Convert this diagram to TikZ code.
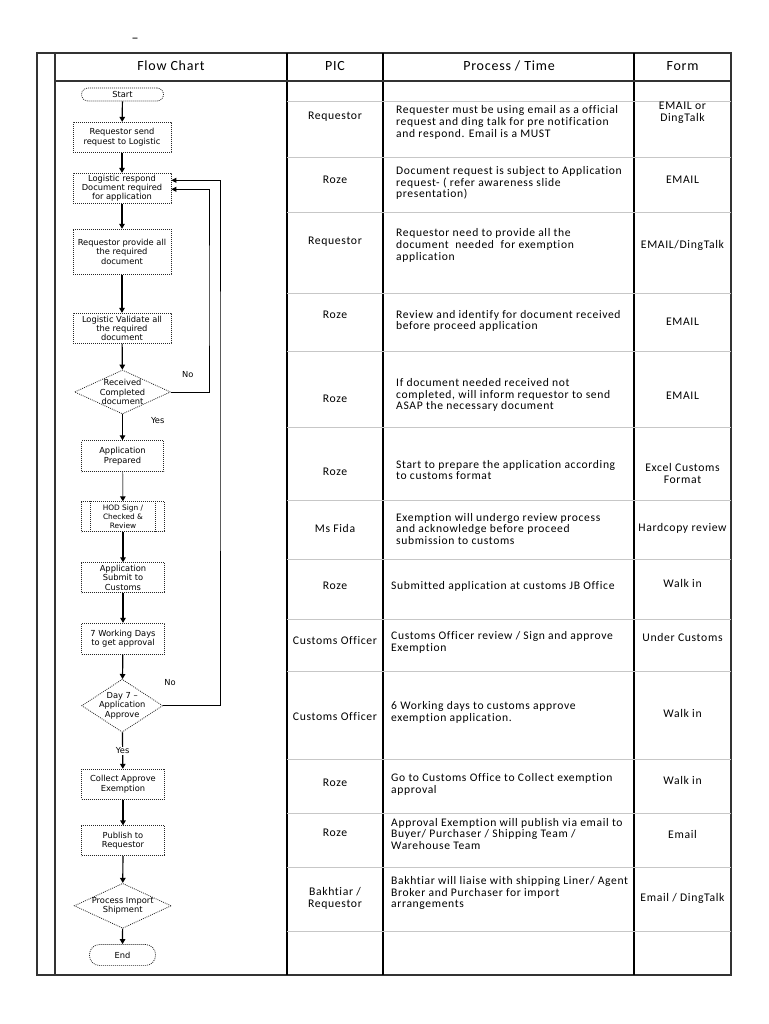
\documentclass[tikz,border=0pt]{standalone}
\usepackage{fontspec}
\setmainfont{Carlito}
\newfontfamily\tabfont[LetterSpace=5.5,Ligatures={NoCommon}]{Carlito}
\newfontfamily\flowfont{DejaVu Sans}
\usepackage{tikz}
\usetikzlibrary{positioning,arrows.meta,shapes.geometric,calc}

\begin{document}
\begin{tikzpicture}[
    x=1pt, y=-1pt,
    flowtxt/.style={font=\flowfont\fontsize{8.3}{9.3}\selectfont},
    procbox/.style={rectangle, draw=black!85, line width=0.8pt, dash pattern=on 0.9pt off 1.1pt,
      minimum width=#1, minimum height=30pt, inner sep=0pt, align=center, flowtxt},
    procbox/.default=83pt,
    termbox/.style={procbox=#1, minimum height=13pt, rounded corners=6.5pt},
    decbox/.style={diamond, draw=black!85, line width=0.8pt, dash pattern=on 0.9pt off 1.1pt, inner sep=0pt},
    dectxt/.style={align=center, flowtxt, inner sep=0pt},
    yesno/.style={flowtxt, inner sep=1pt},
    flowline/.style={line width=1.2pt, -{Triangle[length=5pt,width=5.5pt]}},
    loopline/.style={line width=0.9pt, -{Triangle[length=5pt,width=5pt]}},
    frameline/.style={line width=1.2pt, black!80},
    colline/.style={line width=1.1pt, black},
    rowline/.style={line width=0.8pt, black!22},
    headtxt/.style={font=\tabfont\fontsize{14}{15}\selectfont},
    cell/.style={font=\tabfont\fontsize{11.7}{12}\selectfont, align=center, inner sep=0pt},
    proc/.style={font=\tabfont\fontsize{11.6}{11.8}\selectfont, align=left, anchor=west, inner sep=0pt},
  ]
  \useasboundingbox (0,0) rectangle (768,1024);

  % Table frame
  \node[headtxt] (dash) at (135,40) {–};
  \draw[frameline] (37,53) rectangle (731,975);
  \draw[frameline] (55,53) -- (55,975);
  \draw[colline] (287,53) -- (287,975) (383,53) -- (383,975) (634,53) -- (634,975);
  \draw[frameline] (55,81) -- (731,81);
  \draw[rowline] (287,101) -- (731,101) (287,157) -- (731,157) (287,212) -- (731,212)
    (287,293) -- (731,293) (287,351) -- (731,351) (287,427) -- (731,427)
    (287,500) -- (731,500) (287,559) -- (731,559) (287,619) -- (731,619)
    (287,671) -- (731,671) (287,759) -- (731,759) (287,813) -- (731,813)
    (287,867) -- (731,867) (287,931) -- (731,931);

  % Header
  \node[headtxt] (hflow) at (171,66) {Flow Chart};
  \node[headtxt] (hpic)  at (335,66) {PIC};
  \node[headtxt] (hproc) at (509,66) {Process / Time};
  \node[headtxt] (hform) at (682.5,66) {Form};

  % Flow chart
  \node[termbox=82pt] (start) at (122.5,94.5) {Start};
  \node[procbox=98pt] (req)   at (122,137.3)  {Requestor send\\request to Logistic};
  \node[procbox=98pt] (resp)  at (122,188.3)  {Logistic respond\\Document required\\for application};
  \node[procbox=98pt, minimum height=45pt] (prov) at (122,251.7) {Requestor provide all\\the required\\document};
  \node[procbox=98pt] (valid) at (122,328.3)  {Logistic Validate all\\the required\\document};
  \node[decbox, minimum width=96pt, minimum height=44pt,
    label={[dectxt]center:Received\\Completed\\document}] (recv) at (122.5,392) {};
  \node[procbox=82pt, minimum height=31pt] (prep) at (122.5,456.2) {Application\\Prepared};
  \node[procbox, font=\flowfont\fontsize{7.4}{8.6}\selectfont] (hod) at (123,516.7) {HOD Sign /\\Checked \&\\Review};
  \draw[black!85, line width=0.8pt, dash pattern=on 0.9pt off 1.1pt]
    ($(hod.north west)+(9.3,0)$) -- ($(hod.south west)+(9.3,0)$)
    ($(hod.north east)+(-9.3,0)$) -- ($(hod.south east)+(-9.3,0)$);
  \node[procbox] (sub)  at (123,577.7) {Application\\Submit to\\Customs};
  \node[procbox, minimum height=31pt] (wait) at (123,638.8) {7 Working Days\\to get approval};
  \node[decbox, minimum width=81pt, minimum height=53pt,
    label={[dectxt]center:Day 7 –\\Application\\Approve}] (appr) at (122.2,705.7) {};
  \node[procbox] (coll) at (123,784.2) {Collect Approve\\Exemption};
  \node[procbox] (pub)  at (123,840.8) {Publish to\\Requestor};
  \node[decbox, minimum width=97pt, minimum height=45pt,
    label={[dectxt]center:Process Import\\Shipment}] (ship) at (122.7,905.8) {};
  \node[termbox=66pt, minimum height=21pt, rounded corners=10pt] (end) at (122.5,955) {End};

  \coordinate (loopin)  at (209,300);
  \coordinate (loopout) at (220,400);

  \draw[flowline] (start) -- (req);
  \draw[flowline] (req) -- (resp);
  \draw[flowline] (resp) -- (prov);
  \draw[flowline] (prov) -- (valid);
  \draw[flowline] (valid) -- (recv);
  \draw[flowline] (recv) -- (prep);
  \draw[flowline, draw=black!45, -{Triangle[length=5pt,width=5.5pt,color=black]}] (prep) -- (hod);
  \draw[flowline] (hod) -- (sub);
  \draw[flowline] (sub) -- (wait);
  \draw[flowline] (wait) -- (appr);
  \draw[flowline] (appr) -- node[yesno, fill=white] (yes2) {Yes} (coll);
  \draw[flowline] (coll) -- (pub);
  \draw[flowline] (pub) -- (ship);
  \draw[flowline] (ship) -- (end);

  % Loops back
  \draw[loopline] (recv.east) -| (loopin) |- ([yshift=-1pt]resp.east);
  \draw[loopline] (appr.east) -| (loopout) |- ([yshift=8pt]resp.east);
  \node[yesno] (no1)  at (187.7,375) {No};
  \node[yesno] (yes1) at (157.7,420.7) {Yes};
  \node[yesno] (no2)  at (170,682.7) {No};

  % PIC column
  \node[cell] (pic2)  at (335,117) {Requestor};
  \node[cell] (pic3)  at (335,180) {Roze};
  \node[cell] (pic4)  at (335,242) {Requestor};
  \node[cell] (pic5)  at (335,315) {Roze};
  \node[cell] (pic6)  at (335,399) {Roze};
  \node[cell] (pic7)  at (335,472) {Roze};
  \node[cell] (pic8)  at (335,528) {Ms Fida};
  \node[cell] (pic9)  at (335,586) {Roze};
  \node[cell] (pic10) at (335,641) {Customs Officer};
  \node[cell] (pic11) at (335,717) {Customs Officer};
  \node[cell] (pic12) at (335,783) {Roze};
  \node[cell] (pic13) at (335,833) {Roze};
  \node[cell] (pic14) at (335,898) {Bakhtiar /\\Requestor};

  % Process / Time column
  \node[proc] (proc2)  at (396,122.5) {Requester must be using email as a official\\request and ding talk for pre notification\\and respond. Email is a MUST};
  \node[proc] (proc3)  at (396,183)   {Document request is subject to Application\\request- ( refer awareness slide\\presentation)};
  \node[proc] (proc4)  at (396,245.5) {Requestor need to provide all the\\document~ needed~ for exemption\\application};
  \node[proc] (proc5)  at (396,321)   {Review and identify for document received\\before proceed application};
  \node[proc] (proc6)  at (396,395)   {If document needed received not\\completed, will inform requestor to send\\ASAP the necessary document};
  \node[proc] (proc7)  at (396,470)   {Start to prepare the application according\\to customs format};
  \node[proc] (proc8)  at (396,529)   {Exemption will undergo review process\\and acknowledge before proceed\\submission to customs};
  \node[proc] (proc9)  at (391,586)   {Submitted application at customs JB Office};
  \node[proc] (proc10) at (391,642.5) {Customs Officer review / Sign and approve\\Exemption};
  \node[proc] (proc11) at (391,712)   {6 Working days to customs approve\\exemption application.};
  \node[proc] (proc12) at (391,784)   {Go to Customs Office to Collect exemption\\approval};
  \node[proc] (proc13) at (391,834)   {Approval Exemption will publish via email to\\Buyer/ Purchaser / Shipping Team /\\Warehouse Team};
  \node[proc] (proc14) at (391,893)   {Bakhtiar will liaise with shipping Liner/ Agent\\Broker and Purchaser for import\\arrangements};

  % Form column
  \node[cell] (form2)  at (682.5,113) {EMAIL or\\DingTalk};
  \node[cell] (form3)  at (682.5,180) {EMAIL};
  \node[cell] (form4)  at (682.5,245) {EMAIL/DingTalk};
  \node[cell] (form5)  at (682.5,322) {EMAIL};
  \node[cell] (form6)  at (682.5,396) {EMAIL};
  \node[cell] (form7)  at (682.5,473) {Excel Customs\\Format};
  \node[cell] (form8)  at (682.5,528) {Hardcopy review};
  \node[cell] (form9)  at (682.5,583) {Walk in};
  \node[cell] (form10) at (682.5,637) {Under Customs};
  \node[cell] (form11) at (682.5,713) {Walk in};
  \node[cell] (form12) at (682.5,780) {Walk in};
  \node[cell] (form13) at (682.5,834) {Email};
  \node[cell] (form14) at (682.5,898) {Email / DingTalk};
\end{tikzpicture}
\end{document}
